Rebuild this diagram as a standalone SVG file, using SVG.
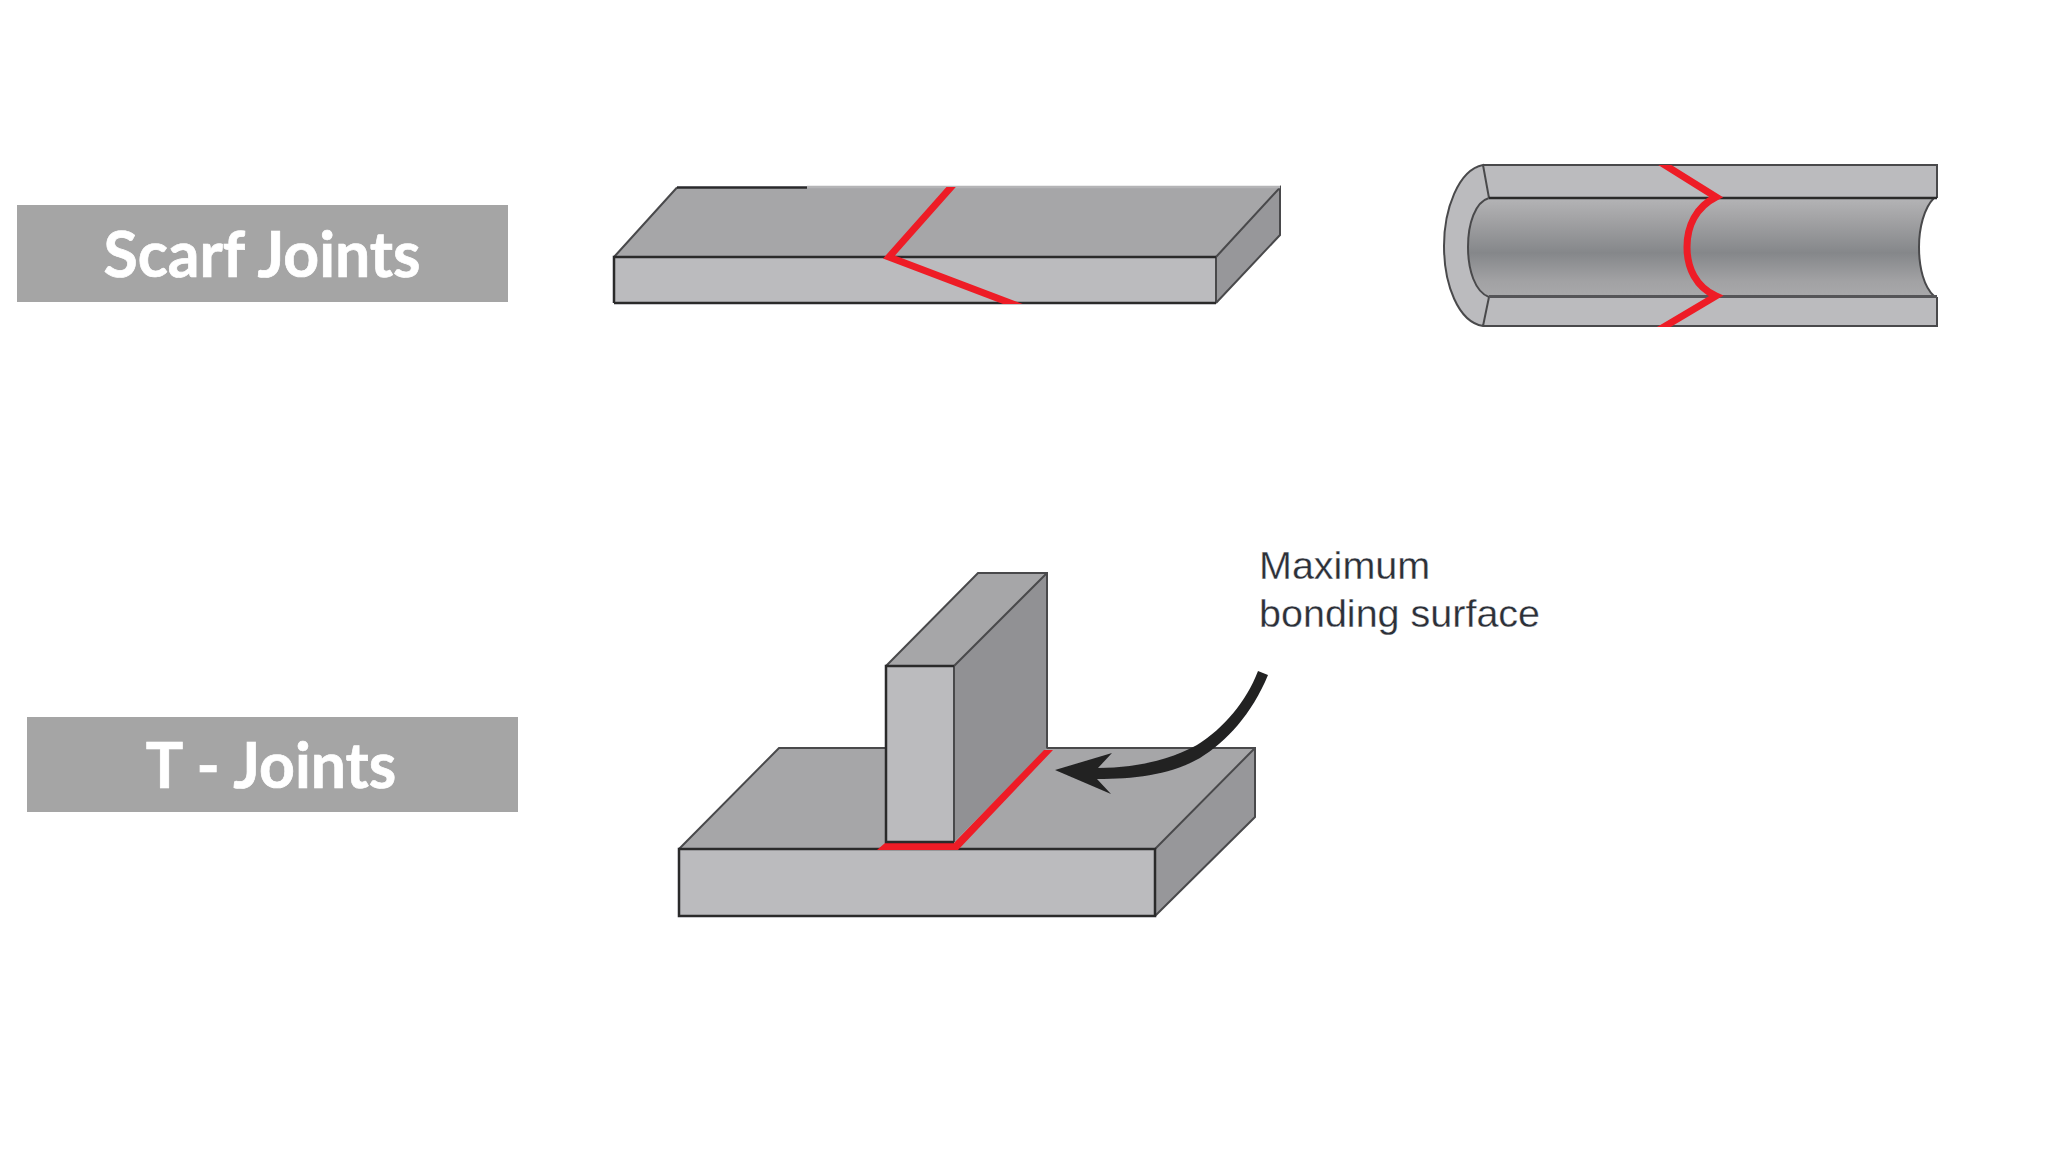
<svg xmlns="http://www.w3.org/2000/svg" width="2048" height="1152" viewBox="0 0 2048 1152">
<style>
.tag{fill:#a5a5a5}
.tagt{font-family:Lato,"Liberation Sans",sans-serif;font-weight:700;font-size:62.500px;fill:#fff;stroke:#fff;stroke-width:.7;text-anchor:middle}
.top{fill:#a6a6a8}
.front{fill:#bbbbbe}
.side{fill:#97979a}
.e{stroke:#2a2a2c;stroke-width:2.5;stroke-linejoin:miter;fill:none}
.e2{stroke:#4a4a4c;stroke-width:2;fill:none}
.red{fill:none;stroke:#ee1c25;stroke-width:7;stroke-linejoin:miter;stroke-miterlimit:10}
.cap{font-family:"Liberation Sans",Arial,sans-serif;font-size:39.500px;fill:#2c3038;stroke:#fff;stroke-width:.3}
.soft{filter:url(#soft)}
</style>
<defs>
<linearGradient id="bore" x1="0" y1="0" x2="0" y2="1">
<stop offset="0" stop-color="#b4b4b6"/><stop offset="0.2" stop-color="#a4a4a6"/><stop offset="0.56" stop-color="#85878a"/><stop offset="0.85" stop-color="#a2a2a4"/><stop offset="1" stop-color="#a8a8aa"/>
</linearGradient>
<filter id="soft" x="-5%" y="-5%" width="110%" height="110%"><feGaussianBlur stdDeviation="0.6"/></filter>
<clipPath id="plateClip"><rect x="600" y="187" width="700" height="117"/></clipPath>
<clipPath id="pipeClip"><rect x="1440" y="165" width="500" height="162"/></clipPath>
</defs>
<rect width="2048" height="1152" fill="#fff"/>

<g id="label-scarf">
<rect class="tag" x="17" y="205" width="491" height="97"/>
<text class="tagt" x="262" y="277">Scarf Joints</text>
</g>

<g id="label-t">
<rect class="tag" x="27" y="717" width="491" height="95"/>
<text class="tagt" x="271" y="788">T - Joints</text>
</g>

<g id="scarf-plate" class="soft">
<polygon class="top" points="614,257 677,187.500 1280,187.500 1216,257"/>
<polygon class="side" points="1216,257 1280,187.500 1280,235 1216,303"/>
<rect class="front" x="614" y="257" width="602" height="46"/>
<path class="e2" d="M614,257 677,187.500M1216,257 1280,187.500V235L1216,303M1216,257V303"/>
<path d="M677,187.500H807" stroke="#2a2a2c" stroke-width="2.500" fill="none"/>
<path d="M807,187H1280" stroke="#b4b4b6" stroke-width="2.500" fill="none"/>
<path class="e" d="M614,303V257H1216M614,303H1216"/>
<path class="red" clip-path="url(#plateClip)" d="M960,177 889,257 1026,309"/>
</g>

<g id="scarf-pipe" class="soft">
<path d="M1489,198H1937V166H1483Z" class="front"/>
<path d="M1489,297H1937V326H1483Z" class="front"/>
<path d="M1489,198H1934C1924,208 1919,228 1919,247C1919,268 1924,287 1934,296H1489C1475,292 1468,270 1468,247C1468,224 1475,202 1489,198Z" fill="url(#bore)"/>
<path d="M1483,166C1458,170 1444,210 1444,246C1444,284 1458,322 1483,326L1489,297C1475,292 1468,270 1468,247C1468,224 1475,202 1489,198Z" class="front"/>
<path class="e2" d="M1483,165H1937V198M1937,297V326H1483C1458,322 1444,284 1444,246C1444,210 1458,170 1483,165L1489,198M1483,326 1489,297M1489,198C1475,202 1468,224 1468,247C1468,270 1475,292 1489,297M1934,198C1924,208 1919,228 1919,247C1919,268 1924,287 1934,296"/>
<path class="e" d="M1489,198H1937"/>
<path d="M1489,296.500H1937" stroke="#555558" stroke-width="3" fill="none"/>
<path class="red" clip-path="url(#pipeClip)" d="M1652,157 1716,197C1696,207 1687,226 1687,247C1687,268 1696,287 1716,296L1652,334"/>
</g>

<g id="t-joint" class="soft">
<polygon class="top" points="679,849 779,748 1255,748 1155,849"/>
<polygon class="side" points="1155,849 1255,748 1255,817 1155,916"/>
<rect class="front" x="679" y="849" width="476" height="67"/>
<path class="e2" d="M679,849 779,748H1255V817L1155,916M1155,849 1255,748"/>
<polygon class="top" points="886,666 978,573 1047,573 954,666"/>
<polygon fill="#919194" points="954,666 1047,573 1047,748 954,842"/>
<rect class="front" x="886" y="666" width="68" height="176"/>
<path class="e" d="M679,849H1155V916H679Z"/>
<polygon fill="#ee1c25" points="877,850 885,843 954,843 1044,750 1053,750 958,850"/>
<path class="e2" d="M886,666 978,573H1047V748M954,666 1047,573M954,666V842"/>
<path class="e" d="M954,666H886V842H954"/>
</g>

<g id="caption">
<text class="cap" x="1259" y="579">Maximum</text>
<text class="cap" x="1259" y="627">bonding surface</text>
</g>

<g id="connectors" class="soft">
<path fill="#222224" d="M1258,671 1268,675C1252,714 1226,742 1200,758C1170,775 1135,779 1097,779L1111,794 1055,770 1112,753 1098,768C1135,768 1170,760 1197,745C1224,728 1246,702 1258,671Z"/>
</g>
</svg>
